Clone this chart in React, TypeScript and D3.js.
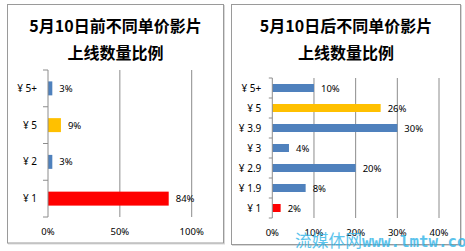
import React from "react";
import * as d3 from "d3";

const leftCategories = ["¥ 1", "¥ 2", "¥ 5", "¥ 5+"];
const leftValues = [84, 3, 9, 3];
const leftColors = ["#ff0000", "#4f81bd", "#ffc000", "#4f81bd"];
const leftTicks = [0, 50, 100];

const rightCategories = ["¥ 1", "¥ 1.9", "¥ 2.9", "¥ 3", "¥ 3.9", "¥ 5", "¥ 5+"];
const rightValues = [2, 8, 20, 4, 30, 26, 10];
const rightColors = ["#ff0000", "#4f81bd", "#4f81bd", "#4f81bd", "#4f81bd", "#ffc000", "#4f81bd"];
const rightTicks = [0, 10, 20, 30, 40];

const titleLeft = ["5月10日前不同单价影片", "上线数量比例"];
const titleRight = ["5月10日后不同单价影片", "上线数量比例"];

type PanelProps = {
  box: [number, number, number, number];
  title: string[];
  cats: string[];
  vals: number[];
  colors: string[];
  ticks: number[];
  xRange: [number, number];
  yRange: [number, number];
  padding: number;
  tickLen: number;
};

function Panel({ box, title, cats, vals, colors, ticks, xRange, yRange, padding, tickLen }: PanelProps) {
  const [bx, by, bw, bh] = box;
  const x = d3.scaleLinear().domain([ticks[0], ticks[ticks.length - 1]]).range(xRange);
  const y = d3
    .scaleBand<string>()
    .domain([...cats].reverse())
    .range(yRange)
    .paddingInner(padding)
    .paddingOuter(padding / 2);
  const yb = d3.scaleBand<string>().domain([...cats].reverse()).range(yRange);
  const cx = bx + bw / 2;
  const x0 = x(0);
  const font = "'Noto Sans', 'Liberation Sans', sans-serif";
  return (
    <g>
      <rect x={bx + 1} y={by + 1} width={bw} height={bh} fill="none" stroke="#d8d8d8" />
      <rect x={bx} y={by} width={bw} height={bh} fill="#fff" stroke="#9a9a9a" />
      {title.map((t, i) => (
        <text
          key={i}
          x={cx}
          y={by + 27 + i * 27}
          textAnchor="middle"
          fontSize={16}
          fontWeight="bold"
          fontFamily="'Noto Sans CJK SC', sans-serif"
          fill="#000"
        >
          {t}
        </text>
      ))}
      {ticks.slice(1).map((t) => (
        <line key={t} x1={x(t)} x2={x(t)} y1={yRange[0]} y2={yRange[1]} stroke="#8c8c8c" strokeWidth={1} />
      ))}
      {cats.map((c, i) => (
        <rect
          key={c}
          x={x0}
          y={y(c)!}
          width={x(vals[i]) - x0}
          height={y.bandwidth()}
          fill={colors[i]}
        />
      ))}
      <line x1={x0} x2={x0} y1={yRange[0]} y2={yRange[1]} stroke="#8c8c8c" />
      {[...yb.domain().map((c) => yb(c)!), yRange[1]].map((v, i) => (
        <line key={i} x1={x0 - tickLen} x2={x0} y1={v} y2={v} stroke="#8c8c8c" />
      ))}
      {cats.map((c, i) => (
        <text
          key={c}
          x={x0 - 11}
          y={yb(c)! + yb.bandwidth() / 2 + 3.5}
          textAnchor="end"
          fontSize={10}
          fontFamily={font}
          fill="#000"
        >
          {c}
        </text>
      ))}
      {cats.map((c, i) => (
        <text
          key={c}
          x={x(vals[i]) + 7}
          y={y(c)! + y.bandwidth() / 2 + 3.5}
          fontSize={9.5}
          fontFamily={font}
          fill="#000"
        >
          {vals[i] + "%"}
        </text>
      ))}
      {ticks.map((t) => (
        <text key={t} x={x(t)} y={yRange[1] + 18} textAnchor="middle" fontSize={9.5} fontFamily={font} fill="#000">
          {t + "%"}
        </text>
      ))}
    </g>
  );
}

export default function App() {
  return (
    <svg
      width={465}
      height={251}
      style={{ position: "absolute", left: 0, top: 0 }}
      viewBox="0 0 465 251"
    >
      <rect width={465} height={251} fill="#fff" />
      <Panel
        box={[7.5, 4.5, 216, 238.5]}
        title={titleLeft}
        cats={leftCategories}
        vals={leftValues}
        colors={leftColors}
        ticks={leftTicks}
        xRange={[48, 191.7]}
        yRange={[70, 217]}
        padding={0.62}
        tickLen={5}
      />
      <Panel
        box={[231.5, 4.5, 229, 240]}
        title={titleRight}
        cats={rightCategories}
        vals={rightValues}
        colors={rightColors}
        ticks={rightTicks}
        xRange={[272.3, 439]}
        yRange={[78, 218]}
        padding={0.6}
        tickLen={3.5}
      />
      <g opacity={0.8}>
        <text x={295} y={247} fontSize={17} fontFamily="'Noto Sans CJK SC', sans-serif" fill="#33b5e8" textLength={67} lengthAdjust="spacingAndGlyphs">
          流媒体网
        </text>
        <text x={362} y={247} fontSize={16} fontWeight="bold" fontFamily="'DejaVu Sans Mono', monospace" fill="#33b5e8" textLength={114} lengthAdjust="spacingAndGlyphs">
          www.lmtw.com
        </text>
      </g>
    </svg>
  );
}
